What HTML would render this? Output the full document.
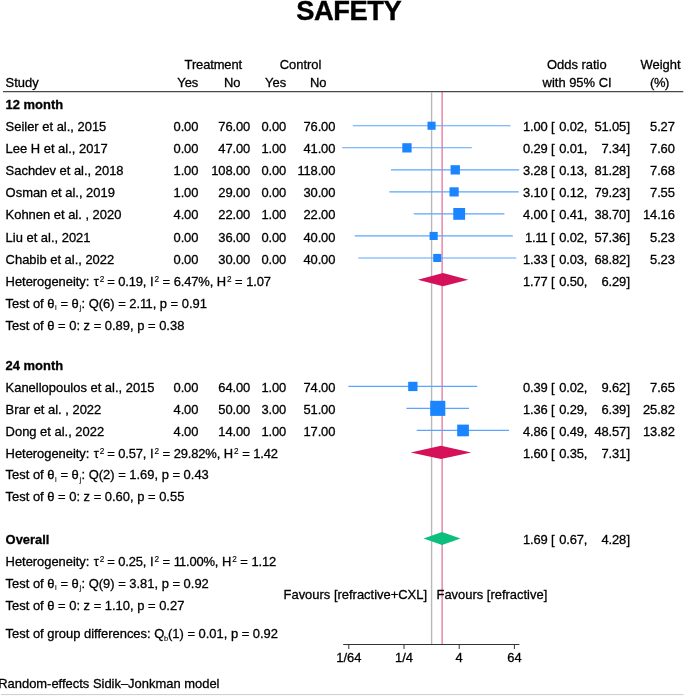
<!DOCTYPE html>
<html lang="en"><head><meta charset="utf-8"><title>SAFETY</title>
<style>html,body{margin:0;padding:0;background:#fff}body{width:685px;height:696px;overflow:hidden}svg{display:block;filter:blur(0.35px)}text{font-family:"Liberation Sans",Arial,Helvetica,sans-serif;font-size:12.95px;fill:#000;stroke:#000;stroke-width:0.3px}.b{font-weight:bold}.e{text-anchor:end}.m{text-anchor:middle}.s{font-size:8.2px;stroke-width:0.15px}.n{letter-spacing:-0.15px}.u{font-size:7.5px;stroke-width:0.1px}.t{font-size:27.3px;font-weight:bold;stroke-width:0.4px;letter-spacing:-0.45px}</style></head><body>
<svg width="685" height="696" viewBox="0 0 685 696">
<rect width="685" height="696" fill="#fff"/>
<text class="t m" x="348.8" y="20.45">SAFETY</text>
<text class="m" x="213.3" y="68.5" letter-spacing="-0.12">Treatment</text>
<text class="m" x="300.6" y="68.5">Control</text>
<text x="5.6" y="86.5">Study</text>
<text class="e" x="198.3" y="86.5">Yes</text>
<text class="e" x="240.5" y="86.5">No</text>
<text class="e" x="286.2" y="86.5">Yes</text>
<text class="e" x="326.5" y="86.5">No</text>
<text class="m" x="576.8" y="68.6">Odds ratio</text>
<text class="m" x="577.1" y="86.9">with 95% CI</text>
<text class="m" x="660.5" y="68.6">Weight</text>
<text class="m" x="659.5" y="86.9" letter-spacing="-0.3">(%)</text>
<line x1="3" x2="683.3" y1="91.6" y2="91.6" stroke="#484848" stroke-width="1.4"/>
<line x1="431.6" x2="431.6" y1="92" y2="644" stroke="#b8b8b8" stroke-width="1.4"/>
<line x1="442.1" x2="442.1" y1="92" y2="644" stroke="#d41159" stroke-width="0.9" stroke-opacity="0.85"/>
<text class="b" x="5.6" y="109.3">12 month</text>
<text x="5.6" y="131.3">Seiler et al., 2015</text>
<text class="e n" x="198.2" y="131.3">0.00</text>
<text class="e n" x="250" y="131.3">76.00</text>
<text class="e n" x="286" y="131.3">0.00</text>
<text class="e n" x="335.2" y="131.3">76.00</text>
<text class="e n" x="547.6" y="131.3">1.00</text>
<text x="551" y="131.3">[</text>
<text class="e n" x="587.3" y="131.3">0.02,</text>
<text class="e n" x="626.1" y="131.3">51.05</text>
<text x="626.5" y="131.3">]</text>
<text class="e n" x="674.7" y="131.3">5.27</text>
<line x1="352.8" x2="510.5" y1="125.8" y2="125.8" stroke="#5aa5ff" stroke-width="1.1"/>
<rect x="427.5" y="121.7" width="8.1" height="8.1" fill="#1a85ff"/>
<text x="5.6" y="153.4">Lee H et al., 2017</text>
<text class="e n" x="198.2" y="153.4">0.00</text>
<text class="e n" x="250" y="153.4">47.00</text>
<text class="e n" x="286" y="153.4">1.00</text>
<text class="e n" x="335.2" y="153.4">41.00</text>
<text class="e n" x="547.6" y="153.4">0.29</text>
<text x="551" y="153.4">[</text>
<text class="e n" x="587.3" y="153.4">0.01,</text>
<text class="e n" x="626.1" y="153.4">7.34</text>
<text x="626.5" y="153.4">]</text>
<text class="e n" x="674.7" y="153.4">7.60</text>
<line x1="342.2" x2="471.8" y1="147.8" y2="147.8" stroke="#5aa5ff" stroke-width="1.1"/>
<rect x="402.3" y="143.2" width="9.3" height="9.3" fill="#1a85ff"/>
<text x="5.6" y="175.4">Sachdev et al., 2018</text>
<text class="e n" x="198.2" y="175.4">1.00</text>
<text class="e n" x="250" y="175.4">108.00</text>
<text class="e n" x="286" y="175.4">0.00</text>
<text class="e n" x="335.2" y="175.4">118.00</text>
<text class="e n" x="547.6" y="175.4">3.28</text>
<text x="551" y="175.4">[</text>
<text class="e n" x="587.3" y="175.4">0.13,</text>
<text class="e n" x="626.1" y="175.4">81.28</text>
<text x="626.5" y="175.4">]</text>
<text class="e n" x="674.7" y="175.4">7.68</text>
<line x1="391.0" x2="519.2" y1="169.9" y2="169.9" stroke="#5aa5ff" stroke-width="1.1"/>
<rect x="450.6" y="165.2" width="9.3" height="9.3" fill="#1a85ff"/>
<text x="5.6" y="197.4">Osman et al., 2019</text>
<text class="e n" x="198.2" y="197.4">1.00</text>
<text class="e n" x="250" y="197.4">29.00</text>
<text class="e n" x="286" y="197.4">0.00</text>
<text class="e n" x="335.2" y="197.4">30.00</text>
<text class="e n" x="547.6" y="197.4">3.10</text>
<text x="551" y="197.4">[</text>
<text class="e n" x="587.3" y="197.4">0.12,</text>
<text class="e n" x="626.1" y="197.4">79.23</text>
<text x="626.5" y="197.4">]</text>
<text class="e n" x="674.7" y="197.4">7.55</text>
<line x1="389.4" x2="518.7" y1="191.9" y2="191.9" stroke="#5aa5ff" stroke-width="1.1"/>
<rect x="449.5" y="187.3" width="9.2" height="9.2" fill="#1a85ff"/>
<text x="5.6" y="219.4">Kohnen et al. , 2020</text>
<text class="e n" x="198.2" y="219.4">4.00</text>
<text class="e n" x="250" y="219.4">22.00</text>
<text class="e n" x="286" y="219.4">1.00</text>
<text class="e n" x="335.2" y="219.4">22.00</text>
<text class="e n" x="547.6" y="219.4">4.00</text>
<text x="551" y="219.4">[</text>
<text class="e n" x="587.3" y="219.4">0.41,</text>
<text class="e n" x="626.1" y="219.4">38.70</text>
<text x="626.5" y="219.4">]</text>
<text class="e n" x="674.7" y="219.4">14.16</text>
<line x1="413.8" x2="504.4" y1="213.9" y2="213.9" stroke="#5aa5ff" stroke-width="1.1"/>
<rect x="453.3" y="208.0" width="11.8" height="11.8" fill="#1a85ff"/>
<text x="5.6" y="241.5">Liu et al., 2021</text>
<text class="e n" x="198.2" y="241.5">0.00</text>
<text class="e n" x="250" y="241.5">36.00</text>
<text class="e n" x="286" y="241.5">0.00</text>
<text class="e n" x="335.2" y="241.5">40.00</text>
<text class="e n" x="547.6" y="241.5">1.1<tspan dx="-0.9">1</tspan></text>
<text x="551" y="241.5">[</text>
<text class="e n" x="587.3" y="241.5">0.02,</text>
<text class="e n" x="626.1" y="241.5">57.36</text>
<text x="626.5" y="241.5">]</text>
<text class="e n" x="674.7" y="241.5">5.23</text>
<line x1="354.8" x2="512.8" y1="235.9" y2="235.9" stroke="#5aa5ff" stroke-width="1.1"/>
<rect x="429.6" y="231.9" width="8.1" height="8.1" fill="#1a85ff"/>
<text x="5.6" y="263.5">Chabib et al., 2022</text>
<text class="e n" x="198.2" y="263.5">0.00</text>
<text class="e n" x="250" y="263.5">30.00</text>
<text class="e n" x="286" y="263.5">0.00</text>
<text class="e n" x="335.2" y="263.5">40.00</text>
<text class="e n" x="547.6" y="263.5">1.33</text>
<text x="551" y="263.5">[</text>
<text class="e n" x="587.3" y="263.5">0.03,</text>
<text class="e n" x="626.1" y="263.5">68.82</text>
<text x="626.5" y="263.5">]</text>
<text class="e n" x="674.7" y="263.5">5.23</text>
<line x1="358.3" x2="516.3" y1="258.0" y2="258.0" stroke="#5aa5ff" stroke-width="1.1"/>
<rect x="433.2" y="253.9" width="8.1" height="8.1" fill="#1a85ff"/>
<text x="5.6" y="285.5"><tspan letter-spacing="-0.03">Heterogeneity:</tspan> <tspan dx="0.9">τ</tspan><tspan class="s" dx="0.9" dy="-3.9">2</tspan><tspan dy="3.9" dx="-0.9"> = </tspan><tspan class="n">0.19,</tspan> I<tspan class="s" dx="0.9" dy="-3.9">2</tspan><tspan dy="3.9"> = </tspan><tspan class="n">6.47%,</tspan> H<tspan class="s" dx="0.9" dy="-3.9">2</tspan><tspan dy="3.9"> = </tspan><tspan class="n">1.07</tspan></text>
<text class="e n" x="547.6" y="285.5">1.77</text>
<text x="551" y="285.5">[</text>
<text class="e n" x="587.3" y="285.5">0.50,</text>
<text class="e n" x="626.1" y="285.5">6.29</text>
<text x="626.5" y="285.5">]</text>
<polygon points="417.8,279.7 443.0,273.1 468.2,279.7 443.0,286.2" fill="#d41159"/>
<text x="5.6" y="307.6">Test of θ<tspan class="u" dx="0.4" dy="2.2">i</tspan><tspan dy="-2.2" dx="0.3"> = θ</tspan><tspan class="u" dx="0.7" dy="2.2">j</tspan><tspan dy="-2.2" dx="0.3">: Q(6) = 2.1<tspan dx="-0.9">1</tspan>, p = 0.91</tspan></text>
<text x="5.6" y="329.6">Test of θ = 0: z = 0.89, p = 0.38</text>
<text class="b" x="5.6" y="370.1">24 month</text>
<text x="5.6" y="392.0">Kanellopoulos et al., 2015</text>
<text class="e n" x="198.2" y="392.0">0.00</text>
<text class="e n" x="250" y="392.0">64.00</text>
<text class="e n" x="286" y="392.0">1.00</text>
<text class="e n" x="335.2" y="392.0">74.00</text>
<text class="e n" x="547.6" y="392.0">0.39</text>
<text x="551" y="392.0">[</text>
<text class="e n" x="587.3" y="392.0">0.02,</text>
<text class="e n" x="626.1" y="392.0">9.62</text>
<text x="626.5" y="392.0">]</text>
<text class="e n" x="674.7" y="392.0">7.65</text>
<line x1="348.4" x2="477.2" y1="386.4" y2="386.4" stroke="#5aa5ff" stroke-width="1.1"/>
<rect x="408.2" y="381.8" width="9.3" height="9.3" fill="#1a85ff"/>
<text x="5.6" y="413.8">Brar et al. , 2022</text>
<text class="e n" x="198.2" y="413.8">4.00</text>
<text class="e n" x="250" y="413.8">50.00</text>
<text class="e n" x="286" y="413.8">3.00</text>
<text class="e n" x="335.2" y="413.8">51.00</text>
<text class="e n" x="547.6" y="413.8">1.36</text>
<text x="551" y="413.8">[</text>
<text class="e n" x="587.3" y="413.8">0.29,</text>
<text class="e n" x="626.1" y="413.8">6.39</text>
<text x="626.5" y="413.8">]</text>
<text class="e n" x="674.7" y="413.8">25.82</text>
<line x1="406.5" x2="469.0" y1="408.4" y2="408.4" stroke="#5aa5ff" stroke-width="1.1"/>
<rect x="430.2" y="400.8" width="15.1" height="15.1" fill="#1a85ff"/>
<text x="5.6" y="435.6">Dong et al., 2022</text>
<text class="e n" x="198.2" y="435.6">4.00</text>
<text class="e n" x="250" y="435.6">14.00</text>
<text class="e n" x="286" y="435.6">1.00</text>
<text class="e n" x="335.2" y="435.6">17.00</text>
<text class="e n" x="547.6" y="435.6">4.86</text>
<text x="551" y="435.6">[</text>
<text class="e n" x="587.3" y="435.6">0.49,</text>
<text class="e n" x="626.1" y="435.6">48.57</text>
<text x="626.5" y="435.6">]</text>
<text class="e n" x="674.7" y="435.6">13.82</text>
<line x1="416.7" x2="509.0" y1="430.4" y2="430.4" stroke="#5aa5ff" stroke-width="1.1"/>
<rect x="457.2" y="424.6" width="11.7" height="11.7" fill="#1a85ff"/>
<text x="5.6" y="457.5"><tspan letter-spacing="-0.03">Heterogeneity:</tspan> <tspan dx="0.9">τ</tspan><tspan class="s" dx="0.9" dy="-3.9">2</tspan><tspan dy="3.9" dx="-0.9"> = </tspan><tspan class="n">0.57,</tspan> I<tspan class="s" dx="0.9" dy="-3.9">2</tspan><tspan dy="3.9"> = </tspan><tspan class="n">29.82%,</tspan> H<tspan class="s" dx="0.9" dy="-3.9">2</tspan><tspan dy="3.9"> = </tspan><tspan class="n">1.42</tspan></text>
<text class="e n" x="547.6" y="457.5">1.60</text>
<text x="551" y="457.5">[</text>
<text class="e n" x="587.3" y="457.5">0.35,</text>
<text class="e n" x="626.1" y="457.5">7.31</text>
<text x="626.5" y="457.5">]</text>
<polygon points="410.7,452.4 441.0,445.8 471.2,452.4 441.0,458.9" fill="#d41159"/>
<text x="5.6" y="479.3">Test of θ<tspan class="u" dx="0.4" dy="2.2">i</tspan><tspan dy="-2.2" dx="0.3"> = θ</tspan><tspan class="u" dx="0.7" dy="2.2">j</tspan><tspan dy="-2.2" dx="0.3">: Q(2) = 1.69, p = 0.43</tspan></text>
<text x="5.6" y="501.1">Test of θ = 0: z = 0.60, p = 0.55</text>
<text class="b" x="5.6" y="544.2">Overall</text>
<text class="e n" x="547.6" y="544.2">1.69</text>
<text x="551" y="544.2">[</text>
<text class="e n" x="587.3" y="544.2">0.67,</text>
<text class="e n" x="626.1" y="544.2">4.28</text>
<text x="626.5" y="544.2">]</text>
<polygon points="423.6,538.6 442.0,532.1 460.5,538.6 442.0,545.1" fill="#0cbf7c"/>
<text x="5.6" y="566.0"><tspan letter-spacing="-0.03">Heterogeneity:</tspan> <tspan dx="0.9">τ</tspan><tspan class="s" dx="0.9" dy="-3.9">2</tspan><tspan dy="3.9" dx="-0.9"> = </tspan><tspan class="n">0.25,</tspan> I<tspan class="s" dx="0.9" dy="-3.9">2</tspan><tspan dy="3.9"> = </tspan><tspan class="n">1<tspan dx="-0.9">1</tspan>.00%,</tspan> H<tspan class="s" dx="0.9" dy="-3.9">2</tspan><tspan dy="3.9"> = </tspan><tspan class="n">1.12</tspan></text>
<text x="5.6" y="587.7">Test of θ<tspan class="u" dx="0.4" dy="2.2">i</tspan><tspan dy="-2.2" dx="0.3"> = θ</tspan><tspan class="u" dx="0.7" dy="2.2">j</tspan><tspan dy="-2.2" dx="0.3">: Q(9) = 3.81, p = 0.92</tspan></text>
<text x="5.6" y="609.5">Test of θ = 0: z = 1.10, p = 0.27</text>
<text x="5.6" y="638.4">Test of group differences: Q<tspan class="u" dx="-0.2" dy="2.2" font-size="6.5">b</tspan><tspan dy="-2.2" dx="-0.3">(1) = 0.01, p = 0.92</tspan></text>
<text class="e" x="427" y="598.9">Favours [refractive+CXL]</text>
<text x="436.5" y="598.9">Favours [refractive]</text>
<line x1="343.2" x2="519.4" y1="644.5" y2="644.5" stroke="#333" stroke-width="1"/>
<line x1="348.8" x2="348.8" y1="644.5" y2="649" stroke="#333" stroke-width="1"/>
<text class="m" x="348.8" y="662">1/64</text>
<line x1="404.0" x2="404.0" y1="644.5" y2="649" stroke="#333" stroke-width="1"/>
<text class="m" x="404.0" y="662">1/4</text>
<line x1="459.2" x2="459.2" y1="644.5" y2="649" stroke="#333" stroke-width="1"/>
<text class="m" x="459.2" y="662">4</text>
<line x1="514.4" x2="514.4" y1="644.5" y2="649" stroke="#333" stroke-width="1"/>
<text class="m" x="514.4" y="662">64</text>
<text x="-1.8" y="688.4">Random-effects Sidik–Jonkman model</text>
<line x1="1" x2="683.6" y1="694.6" y2="694.6" stroke="#cdcdcd" stroke-width="1"/>
</svg></body></html>
